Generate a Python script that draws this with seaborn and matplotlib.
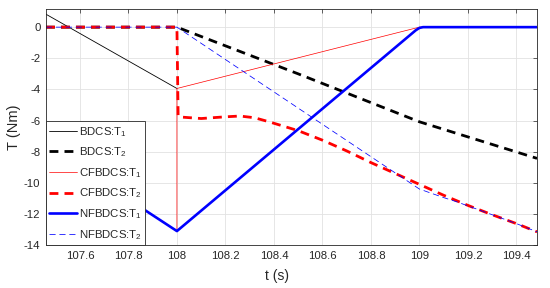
import matplotlib
import numpy as np
import pandas as pd
import seaborn as sns
import matplotlib.pyplot as plt
from matplotlib.ticker import FormatStrFormatter

matplotlib.pyplot.switch_backend('Agg')

# time (s) / torque (Nm)
t_bdcs_1 = [107.46, 108.0]
T_bdcs_1 = [0.83, -3.94]

t_bdcs_2 = [107.46, 108.0, 108.5, 109.0, 109.2, 109.485]
T_bdcs_2 = [0.0, 0.0, -3.0, -6.08, -7.05, -8.43]

t_cf_1 = [107.46, 108.0, 108.0, 109.0, 109.485]
T_cf_1 = [-7.59, -13.1, -3.94, 0.0, 0.0]

t_cf_2 = [107.46, 108.0, 108.005, 108.02, 108.1, 108.2, 108.26, 108.32, 108.38, 108.5,
          108.6, 108.7, 108.8, 108.9, 109.0, 109.1, 109.2, 109.3, 109.4, 109.485]
T_cf_2 = [0.0, 0.0, -5.72, -5.78, -5.87, -5.76, -5.71, -5.82, -6.08, -6.65,
          -7.26, -7.95, -8.7, -9.4, -10.1, -10.8, -11.45, -12.05, -12.62, -13.15]

t_nf_1 = [107.46, 108.0, 108.985, 109.0, 109.015, 109.485]
T_nf_1 = [-7.59, -13.1, -0.2, -0.05, 0.0, 0.0]

t_nf_2 = [107.46, 108.0, 109.0, 109.1, 109.15, 109.2, 109.3, 109.4, 109.485]
T_nf_2 = [0.0, 0.0, -10.4, -10.95, -11.2, -11.48, -12.05, -12.62, -13.15]

x_ticks = [107.6, 107.8, 108, 108.2, 108.4, 108.6, 108.8, 109, 109.2, 109.4]
y_ticks = [0, -2, -4, -6, -8, -10, -12, -14]

sns.set_style("whitegrid")
plt.rcParams['font.family'] = ['Liberation Sans', 'DejaVu Sans']
plt.rcParams['axes.unicode_minus'] = False

fig = plt.figure(figsize=(5.5, 2.88), dpi=100)
ax = fig.add_axes([0.0836, 0.149, 0.8928, 0.82])

series = [
    (t_bdcs_1, T_bdcs_1, 'black', 0.6, '-', r'BDCS:$\mathregular{T_1}$'),
    (t_bdcs_2, T_bdcs_2, 'black', 2.0, (0, (3.2, 2.2)), r'BDCS:$\mathregular{T_2}$'),
    (t_cf_1, T_cf_1, '#ff0000', 0.5, '-', r'CFBDCS:$\mathregular{T_1}$'),
    (t_cf_2, T_cf_2, '#ff0000', 2.0, (0, (3.2, 2.2)), r'CFBDCS:$\mathregular{T_2}$'),
    (t_nf_1, T_nf_1, '#0000ff', 1.9, '-', r'NFBDCS:$\mathregular{T_1}$'),
    (t_nf_2, T_nf_2, '#0000ff', 0.55, (0, (8, 5)), r'NFBDCS:$\mathregular{T_2}$'),
]
for t, T, c, lw, ls, name in series:
    df = pd.DataFrame({'t': t, 'T': T})
    sns.lineplot(x='t', y='T', data=df, estimator=None, sort=False, color=c,
                 linewidth=lw, linestyle=ls, label=name, ax=ax)

ax.set_xlim(107.46, 109.485)
ax.set_ylim(-14, 1.17)
ax.set_xticks(x_ticks)
ax.set_yticks(y_ticks)
ax.xaxis.set_major_formatter(FormatStrFormatter('%g'))
ax.tick_params(direction='in', top=True, right=True, length=3, width=0.5,
               color='#262626', labelsize=8.2, pad=4)
ax.grid(True, color='#e2e2e2', linewidth=0.6)
for s in ax.spines.values():
    s.set_color('#262626')
    s.set_linewidth(0.6)

ax.set_xlabel('t (s)', fontsize=10, labelpad=1)
ax.set_ylabel('T (Nm)', fontsize=10.5, labelpad=2)
ax.xaxis.set_label_coords(0.47, -0.1)

ax.legend(loc='lower left', bbox_to_anchor=(0, 0), borderaxespad=0, fontsize=8.2,
          frameon=True, fancybox=False, framealpha=1, edgecolor='#262626',
          handlelength=2.4, labelspacing=0.6, handletextpad=0.2, borderpad=0.3)
ax.get_legend().get_frame().set_linewidth(0.6)

plt.savefig('out.png', dpi=100)
plt.close()
